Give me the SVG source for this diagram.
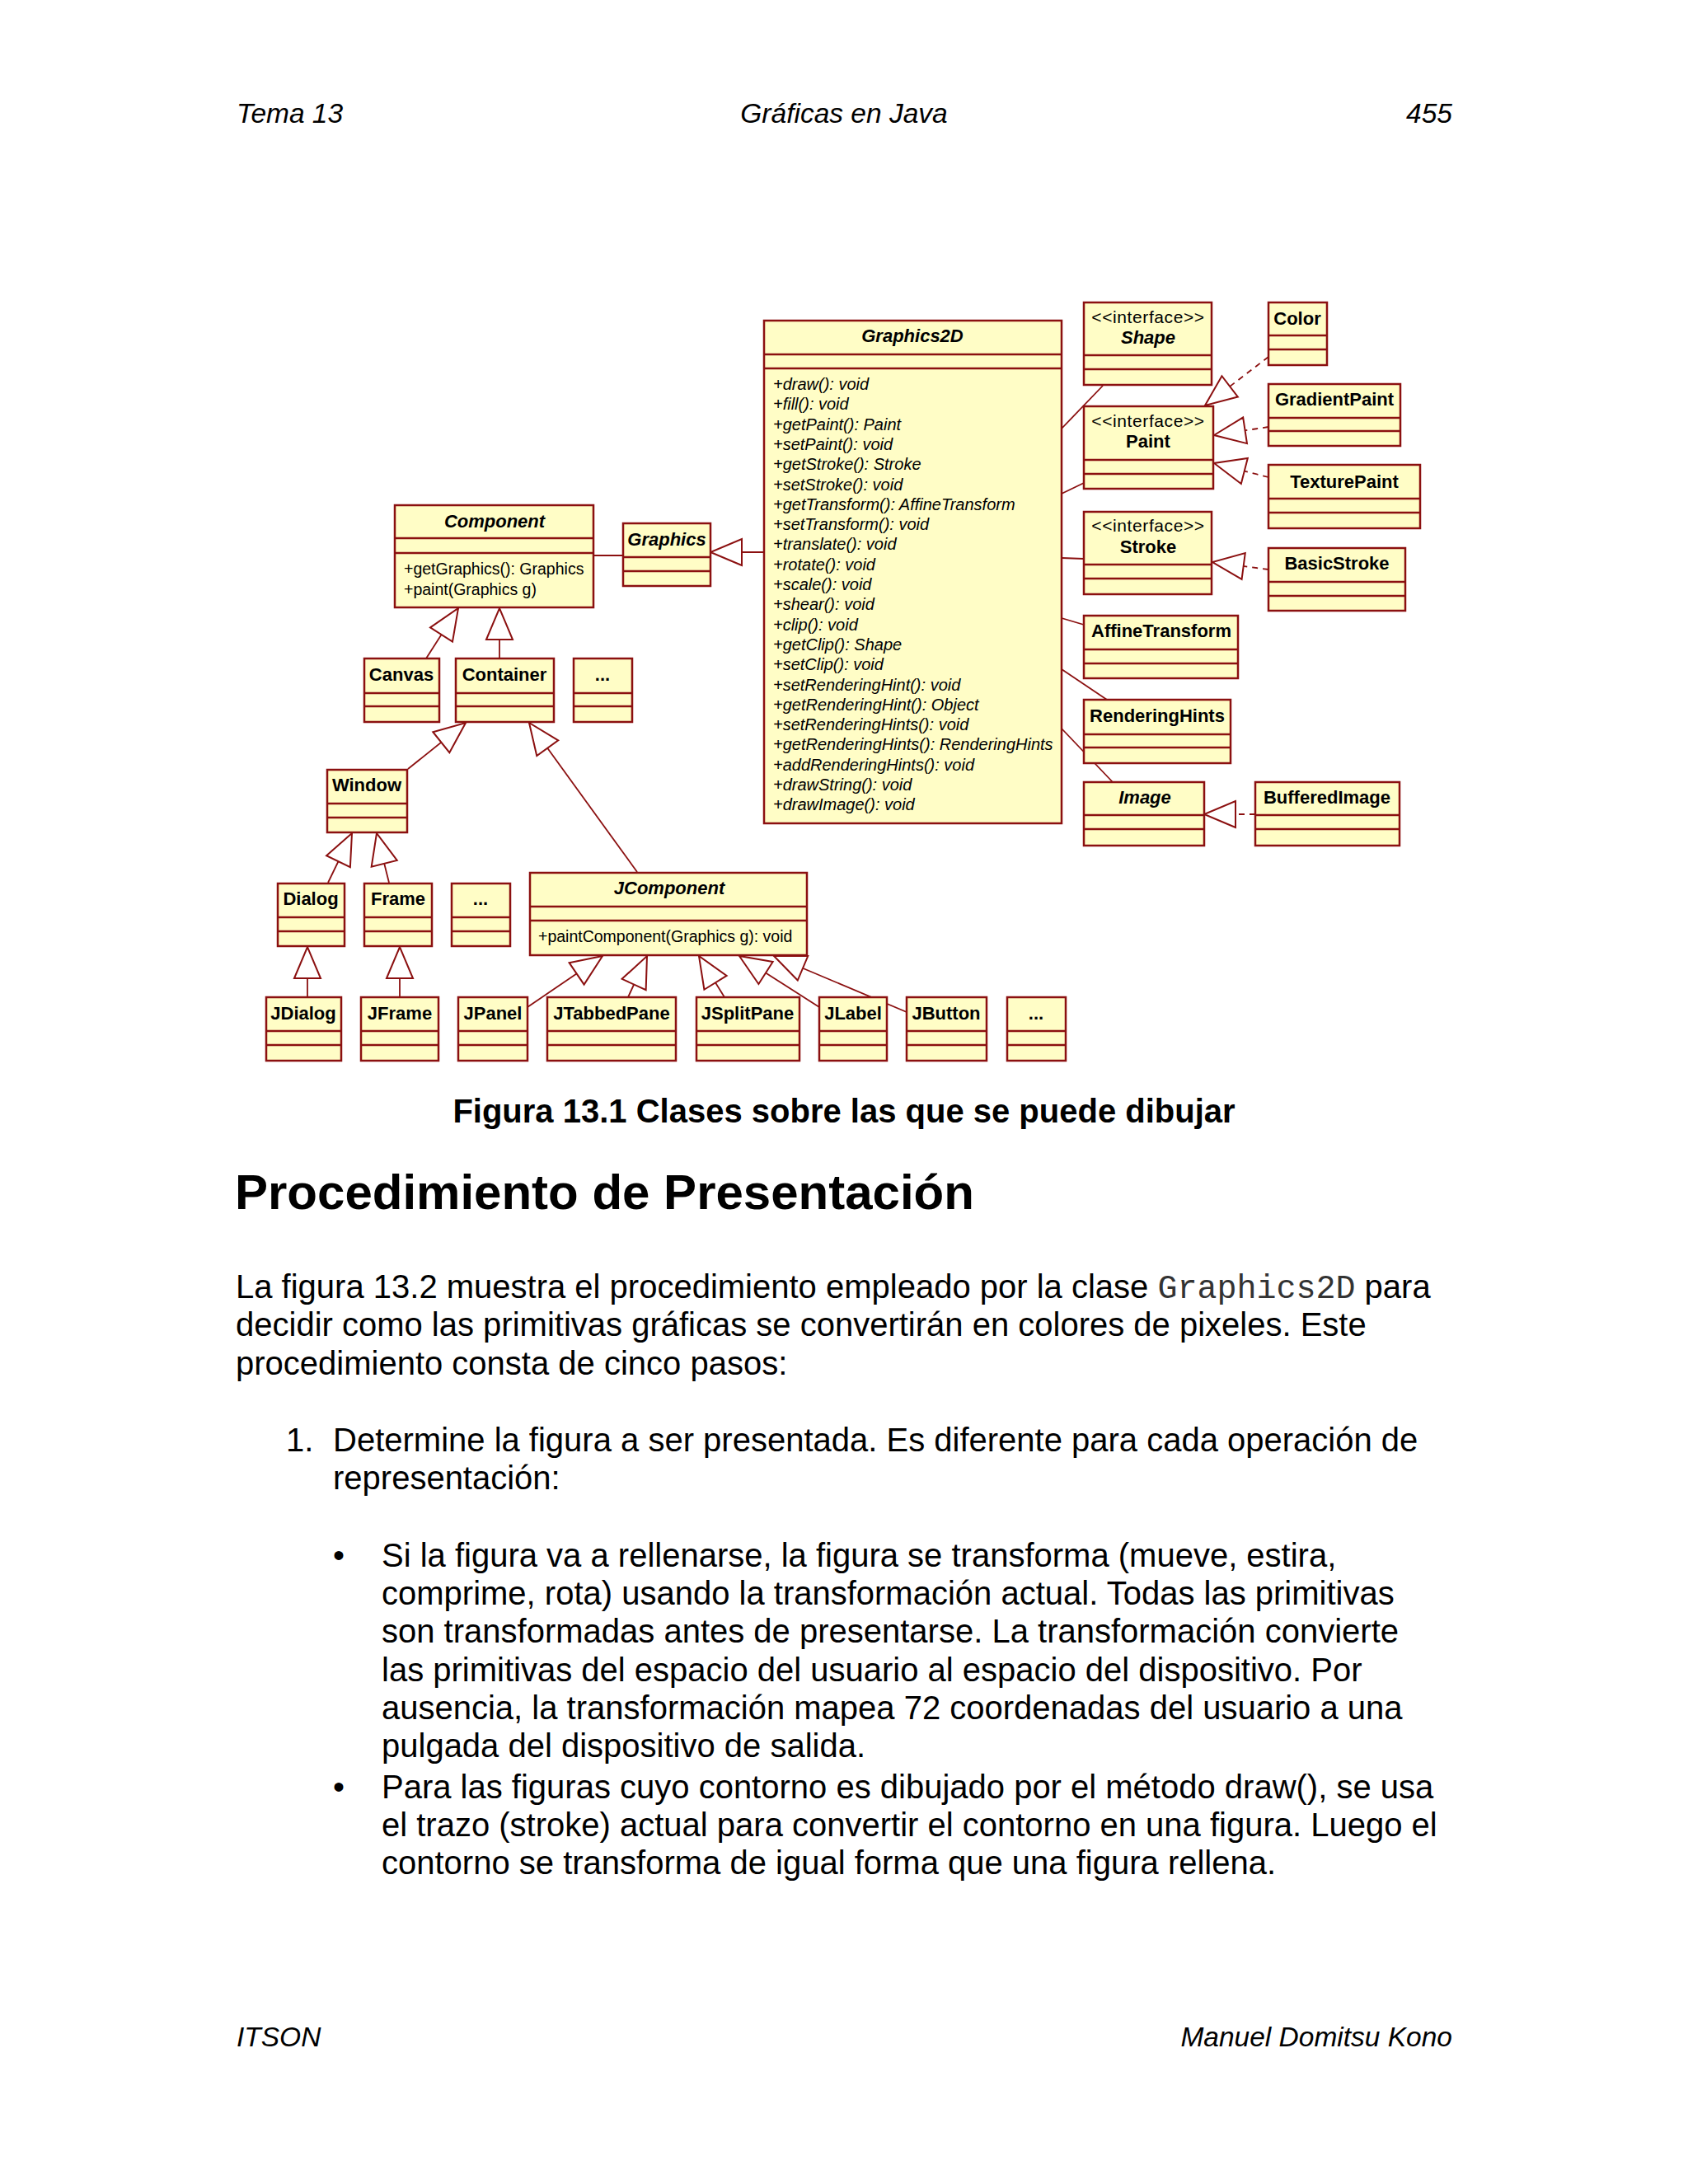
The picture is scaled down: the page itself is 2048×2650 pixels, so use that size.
<svg xmlns="http://www.w3.org/2000/svg" width="2048" height="2650" viewBox="0 0 2048 2650">
<style>
.box{fill:#FFFDC6;stroke:#8B1010;stroke-width:2.5}
.sep{stroke:#8B1010;stroke-width:2.5}
.nm{font-family:"Liberation Sans",Arial,sans-serif;font-weight:bold;font-size:22px;fill:#000;text-anchor:middle}
.it{font-style:italic}
.st{font-family:"Liberation Sans",Arial,sans-serif;font-size:21px;letter-spacing:0.6px;fill:#000;text-anchor:middle}
.mi{font-family:"Liberation Sans",Arial,sans-serif;font-style:italic;font-size:20px;fill:#000}
.mr{font-family:"Liberation Sans",Arial,sans-serif;font-size:19.5px;fill:#000}
.gen{fill:none;stroke:#8B1010;stroke-width:1.8}
.real{fill:none;stroke:#8B1010;stroke-width:1.8;stroke-dasharray:7 6}
.asc{fill:none;stroke:#8B1010;stroke-width:1.8}
.pg{font-family:"Liberation Sans",Arial,sans-serif;fill:#000}
</style>
<defs>
<marker id="tri" markerUnits="userSpaceOnUse" markerWidth="42" markerHeight="36" refX="39" refY="17" orient="auto" overflow="visible">
<path d="M1,1 L39,17 L1,33 Z" fill="#FFFFFF" stroke="#8B1010" stroke-width="2"/>
</marker>
</defs>
<rect width="2048" height="2650" fill="#FFFFFF"/>

<!-- page header -->
<g class="pg" font-style="italic" font-size="33.5px">
<text x="287" y="149">Tema 13</text>
<text x="1024" y="149" text-anchor="middle">Gráficas en Java</text>
<text x="1762" y="149" text-anchor="end">455</text>
</g>

<!-- connectors -->
<g id="connectors">
<line class="asc" x1="720" y1="674" x2="756" y2="674"/>
<line class="asc" x1="1288" y1="520" x2="1338" y2="468"/>
<line class="asc" x1="1288" y1="599" x2="1315" y2="586"/>
<line class="asc" x1="1288" y1="677" x2="1315" y2="678"/>
<line class="asc" x1="1288" y1="750" x2="1315" y2="758"/>
<line class="asc" x1="1288" y1="812" x2="1343" y2="849"/>
<line class="asc" x1="1288" y1="884" x2="1350" y2="949"/>
<line class="gen" x1="927" y1="670" x2="862" y2="670" marker-end="url(#tri)"/>
<line class="gen" x1="517" y1="799" x2="556" y2="738" marker-end="url(#tri)"/>
<line class="gen" x1="606" y1="799" x2="606" y2="738" marker-end="url(#tri)"/>
<line class="gen" x1="495" y1="933" x2="565" y2="877" marker-end="url(#tri)"/>
<line class="gen" x1="773" y1="1058" x2="642" y2="877" marker-end="url(#tri)"/>
<line class="gen" x1="398" y1="1071" x2="427" y2="1011" marker-end="url(#tri)"/>
<line class="gen" x1="472" y1="1071" x2="457" y2="1011" marker-end="url(#tri)"/>
<line class="gen" x1="373" y1="1210" x2="373" y2="1149" marker-end="url(#tri)"/>
<line class="gen" x1="485" y1="1210" x2="485" y2="1149" marker-end="url(#tri)"/>
<line class="gen" x1="640" y1="1222" x2="731" y2="1160" marker-end="url(#tri)"/>
<line class="gen" x1="762" y1="1210" x2="785" y2="1160" marker-end="url(#tri)"/>
<line class="gen" x1="879" y1="1210" x2="848" y2="1160" marker-end="url(#tri)"/>
<line class="gen" x1="994" y1="1222" x2="897" y2="1160" marker-end="url(#tri)"/>
<line class="gen" x1="1100" y1="1228" x2="939" y2="1160" marker-end="url(#tri)"/>
<line class="real" x1="1539" y1="433" x2="1462" y2="492" marker-end="url(#tri)"/>
<line class="real" x1="1539" y1="518" x2="1473" y2="528" marker-end="url(#tri)"/>
<line class="real" x1="1539" y1="579" x2="1473" y2="562" marker-end="url(#tri)"/>
<line class="real" x1="1539" y1="691" x2="1471" y2="682" marker-end="url(#tri)"/>
<line class="real" x1="1523" y1="988" x2="1461" y2="988" marker-end="url(#tri)"/>
</g>

<!-- nodes -->
<g id="Graphics2D">
<rect class="box" x="927" y="389" width="361" height="610"/>
<line class="sep" x1="927" y1="430" x2="1288" y2="430"/>
<line class="sep" x1="927" y1="447" x2="1288" y2="447"/>
<text class="nm it" x="1107" y="415">Graphics2D</text>
<text class="mi" x="938" y="473">
<tspan x="938" dy="0">+draw(): void</tspan>
<tspan x="938" dy="24.3">+fill(): void</tspan>
<tspan x="938" dy="24.3">+getPaint(): Paint</tspan>
<tspan x="938" dy="24.3">+setPaint(): void</tspan>
<tspan x="938" dy="24.3">+getStroke(): Stroke</tspan>
<tspan x="938" dy="24.3">+setStroke(): void</tspan>
<tspan x="938" dy="24.3">+getTransform(): AffineTransform</tspan>
<tspan x="938" dy="24.3">+setTransform(): void</tspan>
<tspan x="938" dy="24.3">+translate(): void</tspan>
<tspan x="938" dy="24.3">+rotate(): void</tspan>
<tspan x="938" dy="24.3">+scale(): void</tspan>
<tspan x="938" dy="24.3">+shear(): void</tspan>
<tspan x="938" dy="24.3">+clip(): void</tspan>
<tspan x="938" dy="24.3">+getClip(): Shape</tspan>
<tspan x="938" dy="24.3">+setClip(): void</tspan>
<tspan x="938" dy="24.3">+setRenderingHint(): void</tspan>
<tspan x="938" dy="24.3">+getRenderingHint(): Object</tspan>
<tspan x="938" dy="24.3">+setRenderingHints(): void</tspan>
<tspan x="938" dy="24.3">+getRenderingHints(): RenderingHints</tspan>
<tspan x="938" dy="24.3">+addRenderingHints(): void</tspan>
<tspan x="938" dy="24.3">+drawString(): void</tspan>
<tspan x="938" dy="24.3">+drawImage(): void</tspan>
</text>
</g>

<g id="Shape">
<rect class="box" x="1315" y="367" width="155" height="100"/>
<line class="sep" x1="1315" y1="431" x2="1470" y2="431"/>
<line class="sep" x1="1315" y1="448" x2="1470" y2="448"/>
<text class="st" x="1393" y="392">&lt;&lt;interface&gt;&gt;</text>
<text class="nm it" x="1393" y="417">Shape</text>
</g>

<g id="Color">
<rect class="box" x="1539" y="367" width="71" height="76"/>
<line class="sep" x1="1539" y1="407" x2="1610" y2="407"/>
<line class="sep" x1="1539" y1="424" x2="1610" y2="424"/>
<text class="nm" x="1574" y="394">Color</text>
</g>

<g id="Paint">
<rect class="box" x="1315" y="493" width="157" height="100"/>
<line class="sep" x1="1315" y1="558" x2="1472" y2="558"/>
<line class="sep" x1="1315" y1="575" x2="1472" y2="575"/>
<text class="st" x="1393" y="518">&lt;&lt;interface&gt;&gt;</text>
<text class="nm" x="1393" y="543">Paint</text>
</g>

<g id="GradientPaint">
<rect class="box" x="1539" y="466" width="160" height="75"/>
<line class="sep" x1="1539" y1="507" x2="1699" y2="507"/>
<line class="sep" x1="1539" y1="523" x2="1699" y2="523"/>
<text class="nm" x="1619" y="492">GradientPaint</text>
</g>

<g id="TexturePaint">
<rect class="box" x="1539" y="564" width="184" height="77"/>
<line class="sep" x1="1539" y1="605" x2="1723" y2="605"/>
<line class="sep" x1="1539" y1="622" x2="1723" y2="622"/>
<text class="nm" x="1631" y="592">TexturePaint</text>
</g>

<g id="Stroke">
<rect class="box" x="1315" y="621" width="155" height="100"/>
<line class="sep" x1="1315" y1="685" x2="1470" y2="685"/>
<line class="sep" x1="1315" y1="702" x2="1470" y2="702"/>
<text class="st" x="1393" y="645">&lt;&lt;interface&gt;&gt;</text>
<text class="nm" x="1393" y="671">Stroke</text>
</g>

<g id="BasicStroke">
<rect class="box" x="1539" y="665" width="166" height="76"/>
<line class="sep" x1="1539" y1="706" x2="1705" y2="706"/>
<line class="sep" x1="1539" y1="723" x2="1705" y2="723"/>
<text class="nm" x="1622" y="691">BasicStroke</text>
</g>

<g id="AffineTransform">
<rect class="box" x="1315" y="747" width="187" height="76"/>
<line class="sep" x1="1315" y1="788" x2="1502" y2="788"/>
<line class="sep" x1="1315" y1="805" x2="1502" y2="805"/>
<text class="nm" x="1409" y="773">AffineTransform</text>
</g>

<g id="RenderingHints">
<rect class="box" x="1315" y="849" width="178" height="77"/>
<line class="sep" x1="1315" y1="891" x2="1493" y2="891"/>
<line class="sep" x1="1315" y1="907" x2="1493" y2="907"/>
<text class="nm" x="1404" y="876">RenderingHints</text>
</g>

<g id="Image">
<rect class="box" x="1315" y="949" width="146" height="77"/>
<line class="sep" x1="1315" y1="989" x2="1461" y2="989"/>
<line class="sep" x1="1315" y1="1006" x2="1461" y2="1006"/>
<text class="nm it" x="1389" y="975">Image</text>
</g>

<g id="BufferedImage">
<rect class="box" x="1523" y="949" width="175" height="77"/>
<line class="sep" x1="1523" y1="989" x2="1698" y2="989"/>
<line class="sep" x1="1523" y1="1006" x2="1698" y2="1006"/>
<text class="nm" x="1610" y="975">BufferedImage</text>
</g>

<g id="Component">
<rect class="box" x="479" y="613" width="241" height="124"/>
<line class="sep" x1="479" y1="653" x2="720" y2="653"/>
<line class="sep" x1="479" y1="671" x2="720" y2="671"/>
<text class="nm it" x="600" y="640">Component</text>
<text class="mr" x="490" y="697">+getGraphics(): Graphics</text>
<text class="mr" x="490" y="722">+paint(Graphics g)</text>
</g>

<g id="Graphics">
<rect class="box" x="756" y="635" width="106" height="76"/>
<line class="sep" x1="756" y1="676" x2="862" y2="676"/>
<line class="sep" x1="756" y1="693" x2="862" y2="693"/>
<text class="nm it" x="809" y="662">Graphics</text>
</g>

<g id="Canvas">
<rect class="box" x="442" y="799" width="91" height="77"/>
<line class="sep" x1="442" y1="841" x2="533" y2="841"/>
<line class="sep" x1="442" y1="857" x2="533" y2="857"/>
<text class="nm" x="487" y="826">Canvas</text>
</g>

<g id="Container">
<rect class="box" x="553" y="799" width="119" height="77"/>
<line class="sep" x1="553" y1="841" x2="672" y2="841"/>
<line class="sep" x1="553" y1="857" x2="672" y2="857"/>
<text class="nm" x="612" y="826">Container</text>
</g>

<g id="Other1">
<rect class="box" x="696" y="799" width="71" height="77"/>
<line class="sep" x1="696" y1="841" x2="767" y2="841"/>
<line class="sep" x1="696" y1="857" x2="767" y2="857"/>
<text class="nm" x="731" y="826">...</text>
</g>

<g id="Window">
<rect class="box" x="397" y="934" width="97" height="76"/>
<line class="sep" x1="397" y1="975" x2="494" y2="975"/>
<line class="sep" x1="397" y1="992" x2="494" y2="992"/>
<text class="nm" x="445" y="960">Window</text>
</g>

<g id="Dialog">
<rect class="box" x="337" y="1072" width="81" height="76"/>
<line class="sep" x1="337" y1="1113" x2="418" y2="1113"/>
<line class="sep" x1="337" y1="1130" x2="418" y2="1130"/>
<text class="nm" x="377" y="1098">Dialog</text>
</g>

<g id="Frame">
<rect class="box" x="442" y="1072" width="82" height="76"/>
<line class="sep" x1="442" y1="1113" x2="524" y2="1113"/>
<line class="sep" x1="442" y1="1130" x2="524" y2="1130"/>
<text class="nm" x="483" y="1098">Frame</text>
</g>

<g id="Other2">
<rect class="box" x="548" y="1072" width="71" height="76"/>
<line class="sep" x1="548" y1="1113" x2="619" y2="1113"/>
<line class="sep" x1="548" y1="1130" x2="619" y2="1130"/>
<text class="nm" x="583" y="1098">...</text>
</g>

<g id="JComponent">
<rect class="box" x="643" y="1059" width="336" height="100"/>
<line class="sep" x1="643" y1="1100" x2="979" y2="1100"/>
<line class="sep" x1="643" y1="1117" x2="979" y2="1117"/>
<text class="nm it" x="812" y="1085">JComponent</text>
<text class="mr" x="653" y="1143">+paintComponent(Graphics g): void</text>
</g>

<g id="JDialog">
<rect class="box" x="323" y="1210" width="91" height="77"/>
<line class="sep" x1="323" y1="1251" x2="414" y2="1251"/>
<line class="sep" x1="323" y1="1268" x2="414" y2="1268"/>
<text class="nm" x="368" y="1237">JDialog</text>
</g>

<g id="JFrame">
<rect class="box" x="438" y="1210" width="94" height="77"/>
<line class="sep" x1="438" y1="1251" x2="532" y2="1251"/>
<line class="sep" x1="438" y1="1268" x2="532" y2="1268"/>
<text class="nm" x="485" y="1237">JFrame</text>
</g>

<g id="JPanel">
<rect class="box" x="556" y="1210" width="84" height="77"/>
<line class="sep" x1="556" y1="1251" x2="640" y2="1251"/>
<line class="sep" x1="556" y1="1268" x2="640" y2="1268"/>
<text class="nm" x="598" y="1237">JPanel</text>
</g>

<g id="JTabbedPane">
<rect class="box" x="664" y="1210" width="156" height="77"/>
<line class="sep" x1="664" y1="1251" x2="820" y2="1251"/>
<line class="sep" x1="664" y1="1268" x2="820" y2="1268"/>
<text class="nm" x="742" y="1237">JTabbedPane</text>
</g>

<g id="JSplitPane">
<rect class="box" x="845" y="1210" width="125" height="77"/>
<line class="sep" x1="845" y1="1251" x2="970" y2="1251"/>
<line class="sep" x1="845" y1="1268" x2="970" y2="1268"/>
<text class="nm" x="907" y="1237">JSplitPane</text>
</g>

<g id="JLabel">
<rect class="box" x="994" y="1210" width="82" height="77"/>
<line class="sep" x1="994" y1="1251" x2="1076" y2="1251"/>
<line class="sep" x1="994" y1="1268" x2="1076" y2="1268"/>
<text class="nm" x="1035" y="1237">JLabel</text>
</g>

<g id="JButton">
<rect class="box" x="1100" y="1210" width="97" height="77"/>
<line class="sep" x1="1100" y1="1251" x2="1197" y2="1251"/>
<line class="sep" x1="1100" y1="1268" x2="1197" y2="1268"/>
<text class="nm" x="1148" y="1237">JButton</text>
</g>

<g id="Other3">
<rect class="box" x="1222" y="1210" width="71" height="77"/>
<line class="sep" x1="1222" y1="1251" x2="1293" y2="1251"/>
<line class="sep" x1="1222" y1="1268" x2="1293" y2="1268"/>
<text class="nm" x="1257" y="1237">...</text>
</g>

<!-- caption and body text -->
<g class="pg">
<text x="1024" y="1362" text-anchor="middle" font-weight="bold" font-size="40px">Figura 13.1 Clases sobre las que se puede dibujar</text>
<text x="285" y="1467" font-weight="bold" font-size="60px">Procedimiento de Presentación</text>
<g font-size="40px">
<text x="286" y="1575">La figura 13.2 muestra el procedimiento empleado por la clase <tspan font-family="'Liberation Mono','Courier New',monospace" fill="#333">Graphics2D</tspan> para</text>
<text x="286" y="1621">decidir como las primitivas gráficas se convertirán en colores de pixeles. Este</text>
<text x="286" y="1668">procedimiento consta de cinco pasos:</text>
<text x="347" y="1761">1.</text>
<text x="404" y="1761">Determine la figura a ser presentada. Es diferente para cada operación de</text>
<text x="404" y="1807">representación:</text>
<text x="404" y="1901">•</text>
<text x="463" y="1901">Si la figura va a rellenarse, la figura se transforma (mueve, estira,</text>
<text x="463" y="1947">comprime, rota) usando la transformación actual. Todas las primitivas</text>
<text x="463" y="1993">son transformadas antes de presentarse. La transformación convierte</text>
<text x="463" y="2040">las primitivas del espacio del usuario al espacio del dispositivo. Por</text>
<text x="463" y="2086">ausencia, la transformación mapea 72 coordenadas del usuario a una</text>
<text x="463" y="2132">pulgada del dispositivo de salida.</text>
<text x="404" y="2182">•</text>
<text x="463" y="2182">Para las figuras cuyo contorno es dibujado por el método draw(), se usa</text>
<text x="463" y="2228">el trazo (stroke) actual para convertir el contorno en una figura. Luego el</text>
<text x="463" y="2274">contorno se transforma de igual forma que una figura rellena.</text>
</g>
</g>

<!-- footer -->
<g class="pg" font-style="italic" font-size="33.5px">
<text x="287" y="2483">ITSON</text>
<text x="1762" y="2483" text-anchor="end">Manuel Domitsu Kono</text>
</g>
</svg>
